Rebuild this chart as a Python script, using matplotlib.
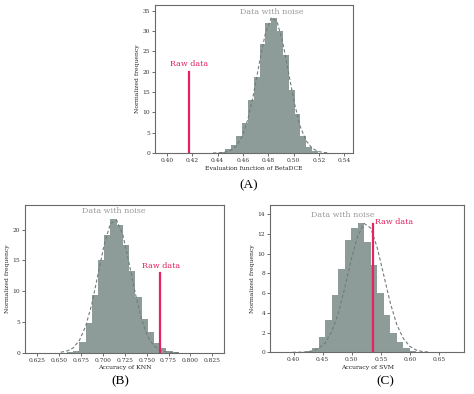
import matplotlib
matplotlib.use("Agg")
import matplotlib.pyplot as plt
import numpy as np

# ---------------- data ----------------
# Panel A : Evaluation function of BetaDCE
a_edges = [0.4364, 0.4410, 0.4456, 0.4502, 0.4548, 0.4594, 0.4640, 0.4686, 0.4732,
           0.4778, 0.4824, 0.4870, 0.4916, 0.4962, 0.5008, 0.5054, 0.5100, 0.5146,
           0.5192, 0.5238, 0.5284]
a_heights = [0.05, 0.25, 0.9, 2.0, 4.1, 7.4, 13.1, 18.7, 26.7, 32.0, 33.2, 29.9,
             24.0, 15.4, 9.5, 4.2, 1.4, 0.5, 0.12, 0.03]
a_fit = [0.01, 0.05, 0.19, 0.62, 1.7, 4.1, 8.4, 14.8, 22.5, 29.5, 33.3, 32.3,
         27.0, 19.5, 12.1, 6.4, 3.0, 1.2, 0.4, 0.12, 0.03]
a_raw = 0.4175
a_raw_height = 20.0
a_xticks = [0.40, 0.42, 0.44, 0.46, 0.48, 0.50, 0.52, 0.54]
a_yticks = [0, 5, 10, 15, 20, 25, 30, 35]

# Panel B : Accuracy of KNN
b_edges = [0.6519, 0.6590, 0.6661, 0.6732, 0.6803, 0.6874, 0.6945, 0.7016, 0.7087,
           0.7158, 0.7229, 0.7300, 0.7371, 0.7442, 0.7513, 0.7584, 0.7655, 0.7726,
           0.7797, 0.7868]
b_heights = [0.03, 0.1, 0.3, 1.8, 4.9, 9.4, 15.1, 19.1, 21.7, 20.7, 17.5, 13.3,
             9.0, 5.5, 3.3, 1.6, 0.7, 0.3, 0.1]
b_fit = [0.08, 0.27, 0.78, 2.0, 4.3, 7.9, 12.8, 17.6, 21.0, 21.5, 19.1, 14.5,
         9.6, 5.4, 2.6, 1.1, 0.4, 0.13, 0.03, 0.01]
b_raw = 0.7652
b_raw_height = 13.0
b_xticks = [0.625, 0.650, 0.675, 0.700, 0.725, 0.750, 0.775, 0.800, 0.825]
b_yticks = [0, 5, 10, 15, 20]

# Panel C : Accuracy of SVM
c_edges = [0.3983, 0.4095, 0.4207, 0.4319, 0.4431, 0.4543, 0.4655, 0.4767, 0.4879,
           0.4991, 0.5103, 0.5215, 0.5327, 0.5439, 0.5551, 0.5663, 0.5775, 0.5887,
           0.5999, 0.6111, 0.6223, 0.6335]
c_heights = [0.02, 0.05, 0.12, 0.4, 1.6, 3.3, 5.8, 8.4, 11.4, 12.6, 13.1, 11.2,
             8.9, 6.0, 3.8, 2.0, 1.05, 0.45, 0.15, 0.05, 0.02]
c_fit = [0.0, 0.01, 0.04, 0.14, 0.39, 0.95, 2.1, 3.9, 6.5, 9.4, 11.8, 13.06,
         12.6, 10.6, 7.8, 5.0, 2.8, 1.4, 0.6, 0.22, 0.07, 0.02]
c_raw = 0.537
c_raw_height = 13.0
c_xticks = [0.40, 0.45, 0.50, 0.55, 0.60, 0.65]
c_yticks = [0, 2, 4, 6, 8, 10, 12, 14]

# ---------------- style ----------------
BAR = "#8e9c99"
FIT = "#6f7c79"
RAW = "#e3245f"
NOISE = "#9a9a9a"
SPINE = "#6a6a6a"
SERIF = "DejaVu Serif"

W, H = 474, 394
fig = plt.figure(figsize=(W / 100, H / 100), dpi=100)


def rect(l, t, r, b):
    return [l / W, 1 - b / H, (r - l) / W, (b - t) / H]


def panel(r, edges, heights, fit, raw, raw_h, xticks, yticks, xlim, ylim,
          xlabel, fmt, noise_xy, raw_xy, raw_ha, letter, letter_xy):
    ax = fig.add_axes(r)
    e = np.asarray(edges)
    ax.bar(e[:-1], heights, width=np.diff(e), align="edge", color=BAR,
           edgecolor="none", zorder=1)
    ax.plot(e, fit, linestyle=(0, (3, 2)), color=FIT, lw=0.8, zorder=2)
    ax.plot([raw, raw], [0, raw_h], color=RAW, lw=1.6, zorder=3)
    ax.set_xlim(*xlim)
    ax.set_ylim(*ylim)
    ax.set_xticks(xticks)
    ax.set_xticklabels([fmt.format(t) for t in xticks])
    ax.set_yticks(yticks)
    ax.tick_params(labelsize=4.2, length=2, width=0.5, pad=1.5, colors="#333333")
    for lab in ax.get_xticklabels() + ax.get_yticklabels():
        lab.set_family(SERIF)
    for s in ax.spines.values():
        s.set_color(SPINE)
        s.set_linewidth(0.8)
    ax.set_xlabel(xlabel, fontsize=4.4, family=SERIF, labelpad=2, color="#222222")
    ax.set_ylabel("Normalized frequency", fontsize=4.4, family=SERIF, labelpad=2,
                  color="#222222")
    ax.text(noise_xy[0], noise_xy[1], "Data with noise", color=NOISE, fontsize=5.8,
            family=SERIF, ha="center", va="center")
    ax.text(raw_xy[0], raw_xy[1], "Raw data", color=RAW, fontsize=5.8,
            family=SERIF, ha=raw_ha, va="center")
    fig.text(letter_xy[0] / W, 1 - letter_xy[1] / H, letter, fontsize=9.5,
             family="Liberation Serif", ha="center", va="center")
    return ax


panel(rect(155, 5, 353, 153), a_edges, a_heights, a_fit, a_raw, a_raw_height,
      a_xticks, a_yticks, (0.3905, 0.547), (0, 36.4),
      "Evaluation function of BetaDCE", "{:.2f}",
      (0.483, 34.8), (a_raw, 21.8), "center", "(A)", (249, 185))

panel(rect(25, 205, 224, 352.7), b_edges, b_heights, b_fit, b_raw, b_raw_height,
      b_xticks, b_yticks, (0.611, 0.8384), (0, 24.0),
      "Accuracy of KNN", "{:.3f}",
      (0.712, 23.0), (0.7665, 14.1), "center", "(B)", (120, 381))

panel(rect(270, 205, 464.3, 352.3), c_edges, c_heights, c_fit, c_raw, c_raw_height,
      c_xticks, c_yticks, (0.3595, 0.6935), (0, 14.94),
      "Accuracy of SVM", "{:.2f}",
      (0.4855, 13.9), (0.5405, 13.25), "left", "(C)", (385, 381))

fig.savefig("out.png", dpi=100)
